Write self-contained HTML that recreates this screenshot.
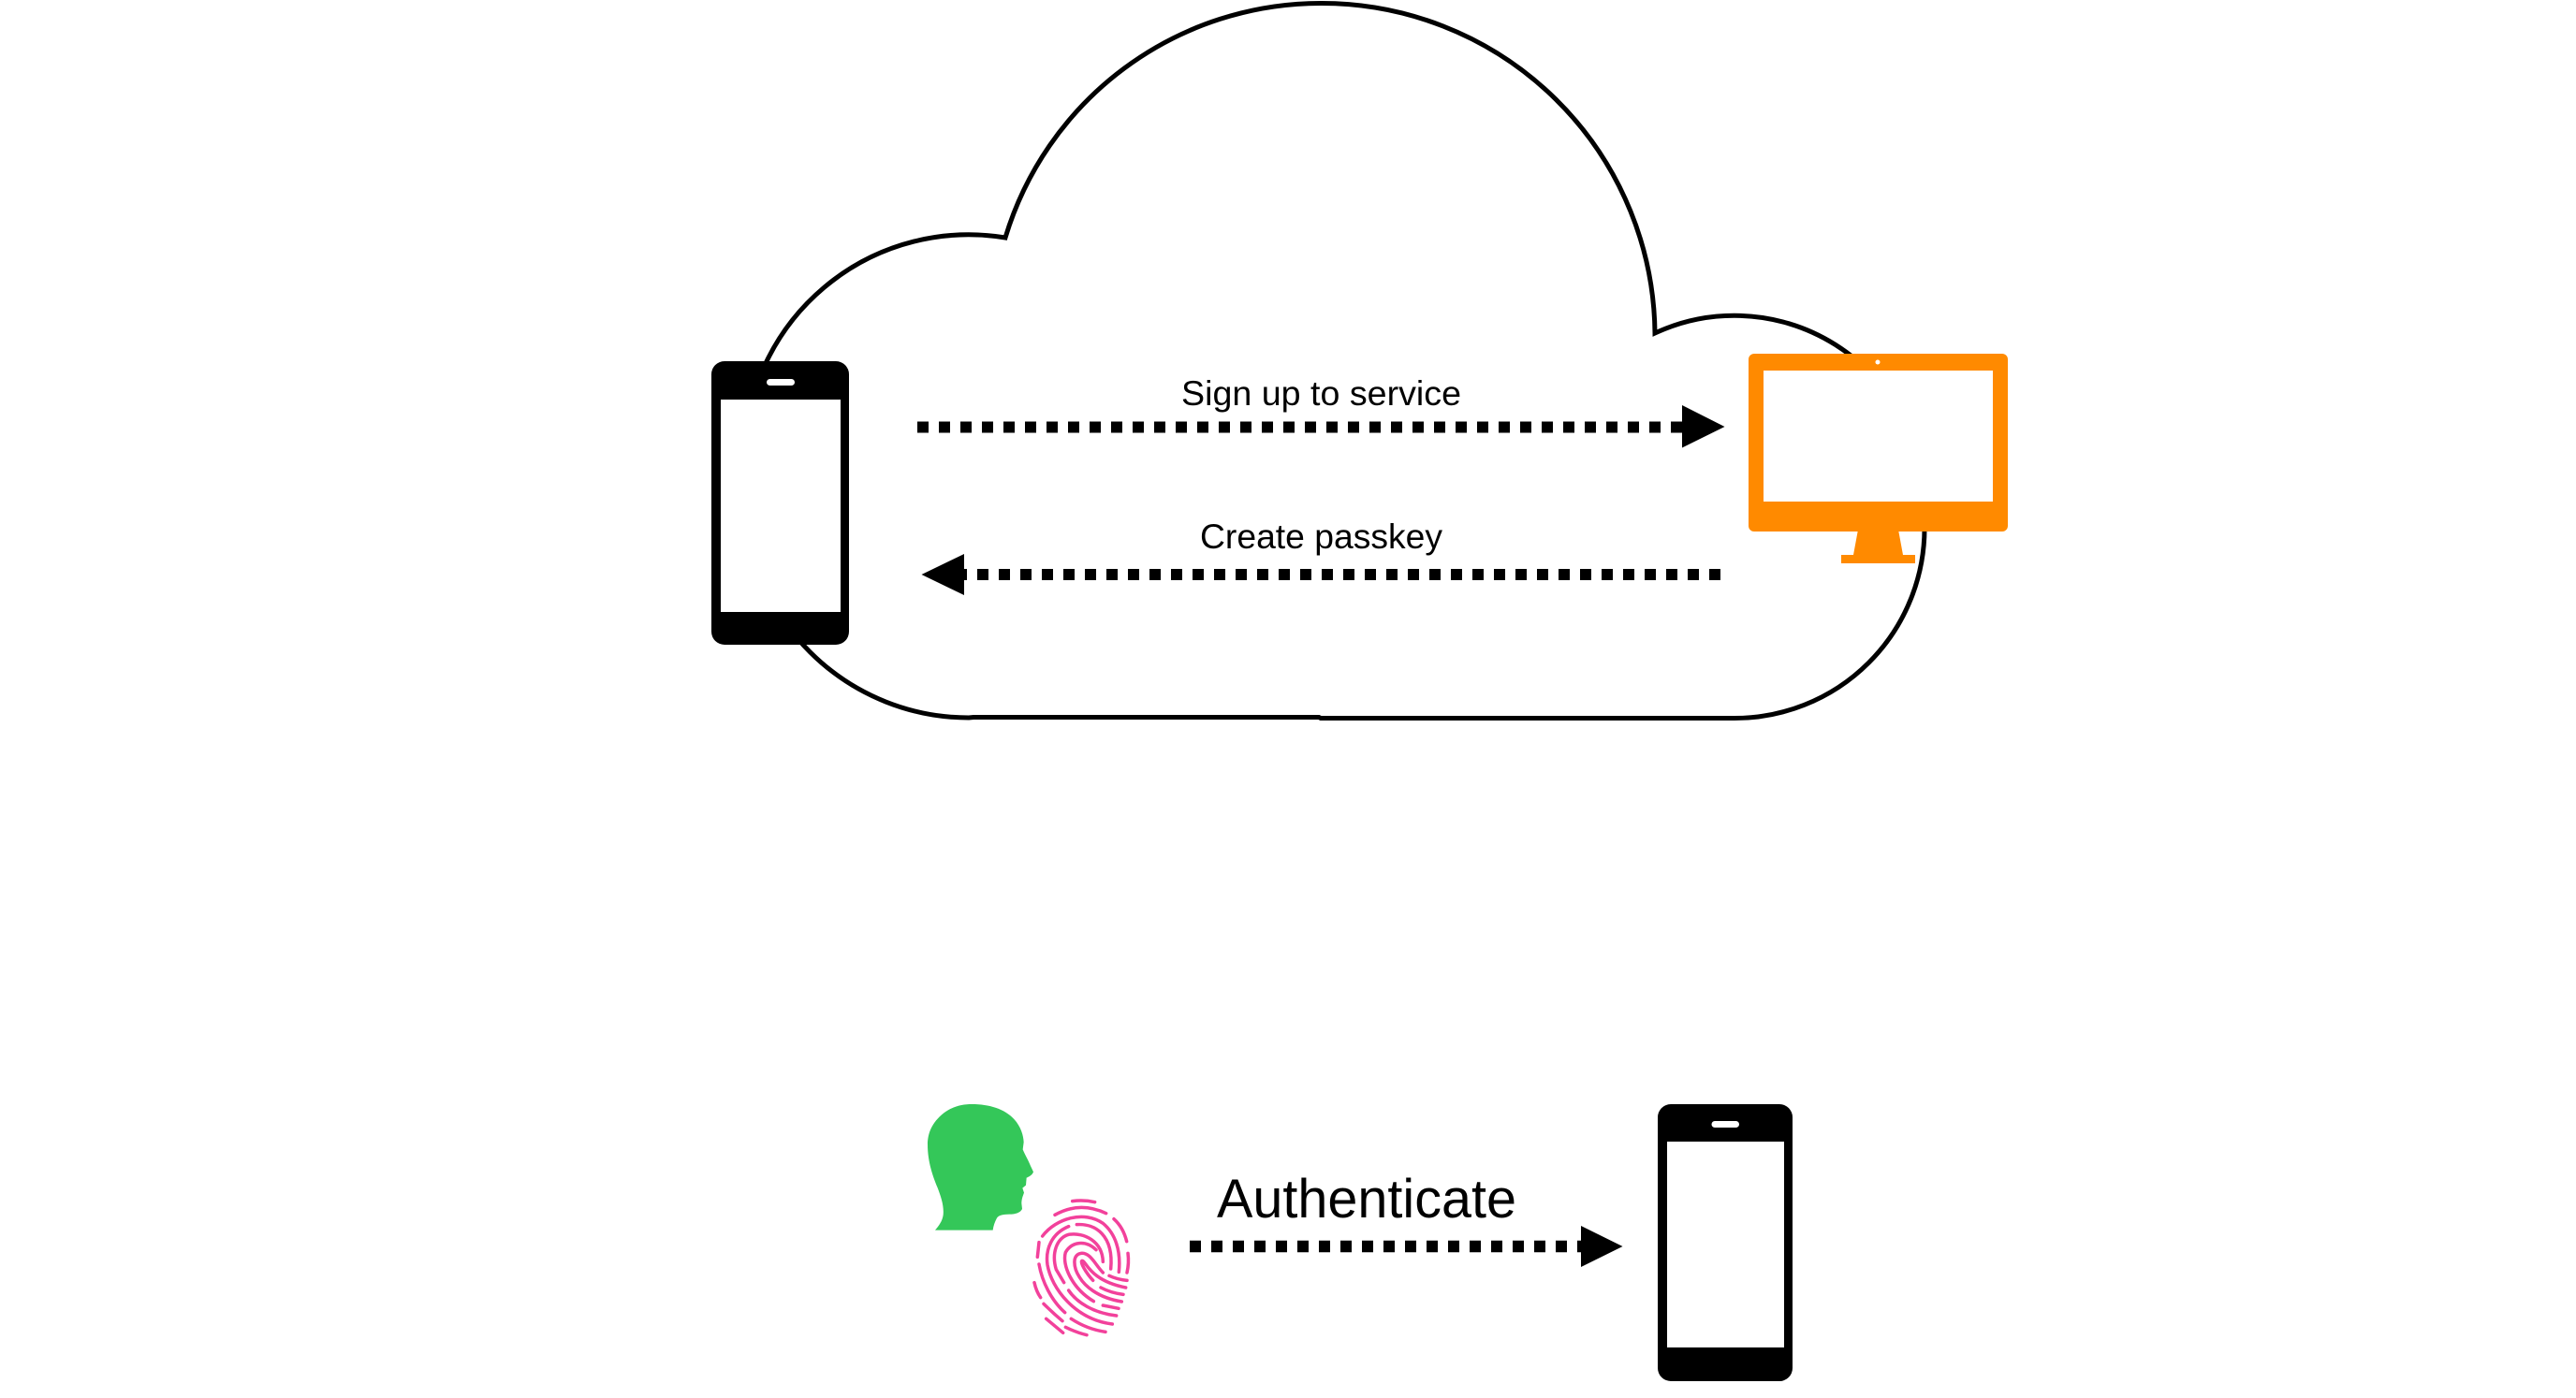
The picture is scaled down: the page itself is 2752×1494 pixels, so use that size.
<!DOCTYPE html>
<html>
<head>
<meta charset="utf-8">
<style>
html,body{margin:0;padding:0;background:#fff}
svg{display:block}
text{font-family:"Liberation Sans",sans-serif;fill:#000}
</style>
</head>
<body>
<svg width="2752" height="1494" viewBox="0 0 2752 1494" xmlns="http://www.w3.org/2000/svg">
<rect width="2752" height="1494" fill="#fff"/>
<!-- Cloud -->
<path d="M1074 254 A352 352 0 0 1 1411 3.5 A356 356 0 0 1 1768 356 A202 202 0 0 1 2055 537 L2056 565 A203 203 0 0 1 1853 767.5 L1411 767.5 L1409 766.5 L1040 766.5 L1035 767 A240 240 0 0 1 795 527 L795 489 A240 240 0 0 1 1074 254 Z" fill="#fff" stroke="#000" stroke-width="5" stroke-linejoin="miter" stroke-miterlimit="10"/>
<!-- Phone 1 -->
<rect x="760" y="386" width="147" height="303" rx="14" fill="#000"/>
<rect x="770" y="427" width="128" height="227" fill="#fff"/>
<rect x="819" y="405" width="30" height="7" rx="3.5" fill="#fff"/>
<!-- Monitor -->
<path d="M1985 566 L2028 566 L2033 593 L2046 593 L2046 602 L1967 602 L1967 593 L1980 593 Z" fill="#FF8A00"/>
<rect x="1868" y="378" width="277" height="190" rx="6" fill="#FF8A00"/>
<rect x="1884" y="396" width="245" height="140" fill="#fff"/>
<circle cx="2006" cy="387" r="2.5" fill="#fff"/>
<!-- Arrow top -->
<line x1="980" y1="456.5" x2="1798" y2="456.5" stroke="#000" stroke-width="12" stroke-dasharray="12 11"/>
<polygon points="1797,433 1842.5,456 1797,478.5" fill="#000"/>
<text x="1262" y="433" font-size="37.5" textLength="299" lengthAdjust="spacingAndGlyphs">Sign up to service</text>
<!-- Arrow bottom -->
<line x1="1021" y1="614" x2="1838" y2="614" stroke="#000" stroke-width="12" stroke-dasharray="12 11"/>
<polygon points="1030,592 984.5,614 1030,636" fill="#000"/>
<text x="1282" y="586" font-size="37.5" textLength="259" lengthAdjust="spacingAndGlyphs">Create passkey</text>
<!-- Head -->
<g transform="translate(970,1170) scale(0.33333)">
<path d="M87 434 C100 418 110 405 113 385 C116 355 105 325 95 298 C80 262 63 215 63 160 C63 125 75 90 115 58 C145 36 175 30 205 30 C260 30 310 45 340 78 C362 102 370 130 371 152 L368 175 C375 192 385 208 393 228 L402 247 C398 258 388 262 380 266 L378 290 L367 299 L372 314 C368 325 364 335 364 348 L366 366 C360 378 345 383 325 383 C305 384 292 385 285 395 C278 408 274 420 272 434 Z" fill="#34C759"/>
</g>
<!-- Fingerprint -->
<g transform="translate(1095,1270) scale(0.33333)" fill="none" stroke="#F2419B" stroke-width="10.5" stroke-linecap="round">
<path d="M152 41 Q188 36 224 44"/>
<path d="M96 85 Q175 40 260 80"/>
<path d="M56 153 C100 95 190 70 250 112 C290 145 308 200 301 268"/>
<path d="M285 98 Q315 125 326 170"/>
<path d="M330 208 Q334 240 327 270"/>
<path d="M166 116 C225 112 285 150 275 258"/>
<path d="M140 122 C85 145 65 195 72 245 C85 320 160 420 280 435"/>
<path d="M250 235 C248 170 190 140 140 148 C100 160 85 210 100 260 L125 302"/>
<path d="M228 197 C195 165 150 170 130 205 C118 245 150 320 220 362"/>
<path d="M250 270 C225 245 210 205 180 208 C150 212 155 255 175 285 C190 310 230 350 310 363"/>
<path d="M218 295 C195 270 175 235 183 232 C195 230 205 295 323 318"/>
<path d="M270 280 Q295 292 327 295"/>
<path d="M243 318 Q275 335 315 340"/>
<path d="M250 375 L300 385"/>
<path d="M140 327 C165 365 220 400 293 408"/>
<path d="M45 173 L40 220"/>
<path d="M45 243 C55 300 85 360 128 398"/>
<path d="M30 302 Q36 330 50 350"/>
<path d="M60 370 Q90 400 120 425"/>
<path d="M148 418 Q200 452 258 460"/>
<path d="M68 418 L122 463"/>
<path d="M130 445 Q165 462 198 470"/>
</g>
<!-- Arrow Authenticate -->
<line x1="1271" y1="1332" x2="1690" y2="1332" stroke="#000" stroke-width="12.5" stroke-dasharray="12 11"/>
<polygon points="1689,1310 1733.5,1332 1689,1354" fill="#000"/>
<text x="1300" y="1301" font-size="58" textLength="320" lengthAdjust="spacingAndGlyphs">Authenticate</text>
<!-- Phone 2 -->
<rect x="1771" y="1180" width="144" height="296" rx="14" fill="#000"/>
<rect x="1781" y="1220" width="125" height="220" fill="#fff"/>
<rect x="1828.5" y="1198" width="29.5" height="7" rx="3.5" fill="#fff"/>
</svg>
</body>
</html>
